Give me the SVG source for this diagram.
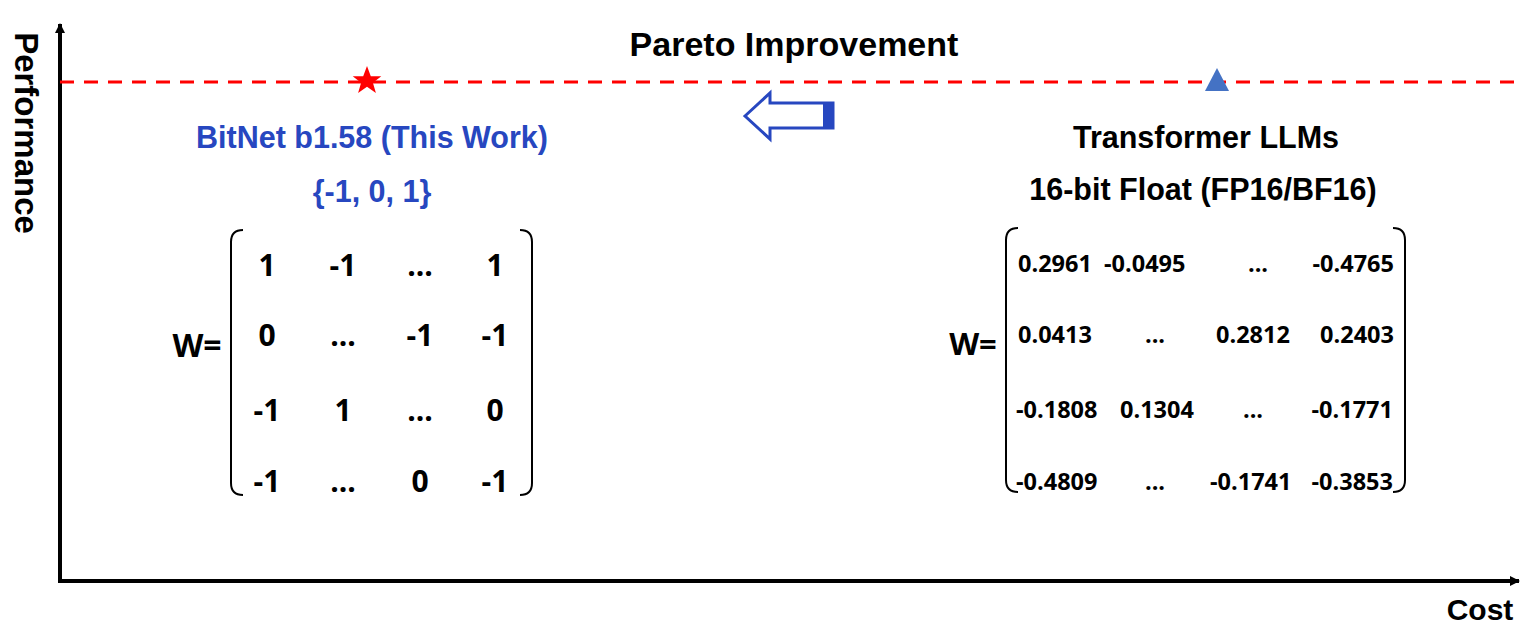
<svg xmlns="http://www.w3.org/2000/svg" width="1536" height="637" viewBox="0 0 1536 637">
<style>
.h{font-family:"Liberation Sans",Arial,sans-serif;font-weight:bold;fill:#000}
.blue{fill:#2747C0}
.m{font-family:"Open Sans","Noto Sans",sans-serif;font-weight:bold;fill:#000}
.ml{font-size:30px}
.ms{font-size:23.5px}
.br{fill:none;stroke:#000;stroke-width:2}
</style>
<defs>
<marker id="ah" viewBox="0 0 10 10" refX="9" refY="5" markerWidth="10" markerHeight="10" markerUnits="userSpaceOnUse" orient="auto">
<path d="M0,0 L10,5 L0,10 z" fill="#000"/>
</marker>
</defs>
<rect width="1536" height="637" fill="#fff"/>
<g id="axes">
<line x1="60" y1="582" x2="60" y2="24" stroke="#000" stroke-width="4" marker-end="url(#ah)"/>
<line x1="58" y1="581" x2="1519" y2="581" stroke="#000" stroke-width="4" marker-end="url(#ah)"/>
<text class="h" font-size="33" transform="translate(15,133) rotate(90)" text-anchor="middle">Performance</text>
<text class="h" font-size="30" x="1480" y="620" text-anchor="middle">Cost</text>
</g>
<g id="pareto">
<text class="h" font-size="34" x="794" y="56" text-anchor="middle">Pareto Improvement</text>
<line x1="60" y1="82" x2="1520" y2="82" stroke="#F00" stroke-width="3" stroke-dasharray="14,10"/>
<path d="M745,116 L770,93 L770,103 L833,103 L833,128 L770,128 L770,139 Z" fill="#fff" stroke="#2747C0" stroke-width="3" stroke-linejoin="miter"/>
<rect x="823" y="103" width="10" height="25" fill="#2747C0"/>
</g>
<g id="bitnet">
<polygon points="367,66 370.8,76.3 381.3,76.3 372.9,82.7 375.9,93 367,86.8 358.1,93 361.1,82.7 352.7,76.3 363.2,76.3" fill="#F00"/>
<text class="h blue" font-size="30.5" x="372" y="148" text-anchor="middle">BitNet b1.58 (This Work)</text>
<text class="h blue" font-size="30.5" x="372" y="202" text-anchor="middle">{-1, 0, 1}</text>
<text class="m" font-size="32" x="197" y="357" text-anchor="middle">W=</text>
<path class="br" d="M243,230 Q231,230 231,242 L231,483 Q231,495 243,495"/>
<path class="br" d="M520,230 Q532,230 532,242 L532,483 Q532,495 520,495"/>
<g class="m ml" text-anchor="middle">
<text x="267" y="276">1</text><text x="343" y="276">-1</text><text x="420" y="276">...</text><text x="495" y="276">1</text>
<text x="267" y="346">0</text><text x="343" y="346">...</text><text x="420" y="346">-1</text><text x="495" y="346">-1</text>
<text x="267" y="421">-1</text><text x="343" y="421">1</text><text x="420" y="421">...</text><text x="495" y="421">0</text>
<text x="267" y="492">-1</text><text x="343" y="492">...</text><text x="420" y="492">0</text><text x="495" y="492">-1</text>
</g>
</g>
<g id="transformer">
<polygon points="1217,68 1229,91 1205,91" fill="#4472C4"/>
<text class="h" font-size="30.5" x="1206" y="148" text-anchor="middle">Transformer LLMs</text>
<text class="h" font-size="30.5" x="1203" y="200" text-anchor="middle">16-bit Float (FP16/BF16)</text>
<text class="m" font-size="31" x="973" y="355" text-anchor="middle">W=</text>
<path class="br" d="M1018,228 Q1006,228 1006,240 L1006,480 Q1006,492 1018,492"/>
<path class="br" d="M1393,228 Q1405,228 1405,240 L1405,480 Q1405,492 1393,492"/>
<g class="m ms">
<text x="1018" y="272">0.2961</text><text x="1104" y="272">-0.0495</text><text x="1258" y="272" text-anchor="middle">...</text><text x="1394" y="272" text-anchor="end">-0.4765</text>
<text x="1018" y="343">0.0413</text><text x="1155" y="343" text-anchor="middle">...</text><text x="1216" y="343">0.2812</text><text x="1394" y="343" text-anchor="end">0.2403</text>
<text x="1016" y="418">-0.1808</text><text x="1120" y="418">0.1304</text><text x="1253" y="418" text-anchor="middle">...</text><text x="1393" y="418" text-anchor="end">-0.1771</text>
<text x="1016" y="490">-0.4809</text><text x="1155" y="490" text-anchor="middle">...</text><text x="1210" y="490">-0.1741</text><text x="1393" y="490" text-anchor="end">-0.3853</text>
</g>
</g>
</svg>
